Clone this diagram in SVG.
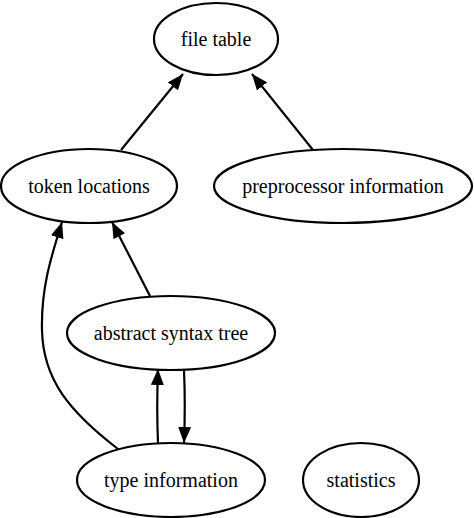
<svg xmlns="http://www.w3.org/2000/svg" width="474" height="518" viewBox="0 0 474 518">
<defs>
<style>
.n ellipse{fill:#fff;stroke:#000;stroke-width:2.2}
.n text{font-family:"Liberation Serif","Times New Roman",serif;font-size:20px;text-anchor:middle;fill:#000}
.e path{fill:none;stroke:#000;stroke-width:2.2}
</style>
<marker id="ah" markerUnits="userSpaceOnUse" markerWidth="18" markerHeight="14" viewBox="0 0 18 14" refX="16" refY="7" orient="auto">
<path d="M0,0.5 L16,7 L0,13.5 z" fill="#000"/>
</marker>
</defs>
<rect width="474" height="518" fill="#fff"/>
<g id="edges" class="e">
<path d="M121,150 L183,74" marker-end="url(#ah)"/>
<path d="M313,150 L252,74" marker-end="url(#ah)"/>
<path d="M150,296 L112,222" marker-end="url(#ah)"/>
<path d="M118,449 C70,412 43,380 42,330 C41,290 50,260 62,222" marker-end="url(#ah)"/>
<path d="M158,443 C157,420 157,395 158,369" marker-end="url(#ah)"/>
<path d="M184,370 C185,393 185,418 184,443" marker-end="url(#ah)"/>
</g>
<g id="file_table" class="n"><ellipse cx="216" cy="39" rx="62" ry="36"/><text x="216" y="46">file table</text></g>
<g id="token_locations" class="n"><ellipse cx="89" cy="186" rx="88" ry="37"/><text x="89" y="193">token locations</text></g>
<g id="preprocessor_information" class="n"><ellipse cx="343" cy="186" rx="129" ry="37"/><text x="343" y="193">preprocessor information</text></g>
<g id="abstract_syntax_tree" class="n"><ellipse cx="171" cy="333" rx="104" ry="37"/><text x="171" y="340">abstract syntax tree</text></g>
<g id="type_information" class="n"><ellipse cx="171" cy="480" rx="94" ry="37"/><text x="171" y="487">type information</text></g>
<g id="statistics" class="n"><ellipse cx="361" cy="480" rx="58" ry="37"/><text x="361" y="487">statistics</text></g>
</svg>
